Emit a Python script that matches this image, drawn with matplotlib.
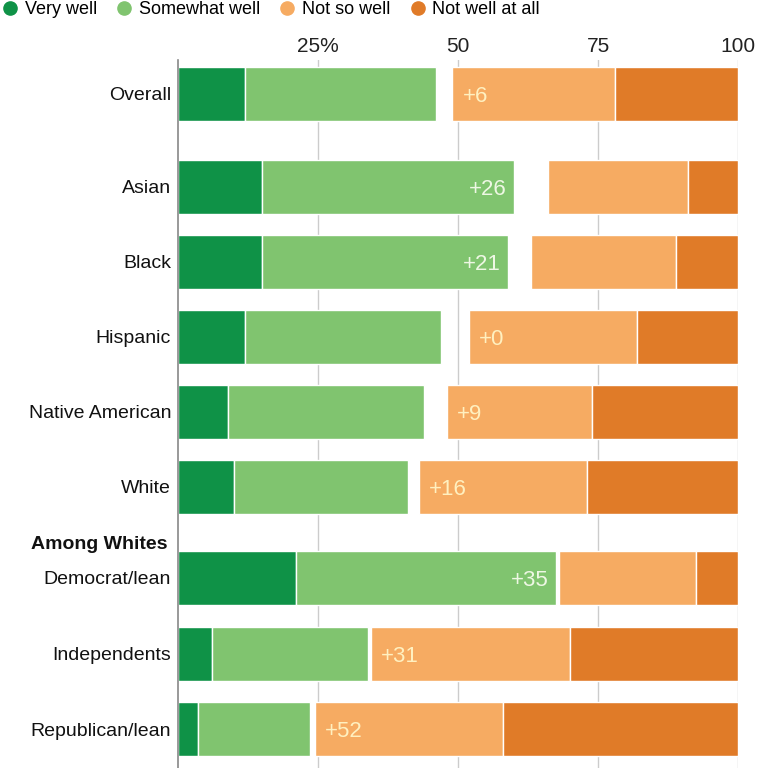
import numpy as np
import matplotlib.pyplot as plt
from matplotlib.lines import Line2D

# Data
groups = ["Overall", "Asian", "Black", "Hispanic", "Native American", "White",
          "Democrat/lean", "Independents", "Republican/lean"]
very_well = [12, 15, 15, 12, 9, 10, 21, 6, 3.5]
somewhat_well = [34, 45, 44, 35, 35, 31, 46.5, 28, 20]
not_so_well = [29, 25, 26, 30, 26, 30, 24.5, 35.5, 33.5]
not_well_at_all = [22, 9, 11, 18, 26, 27, 7.5, 30, 42]
net_labels = ["+6", "+26", "+21", "+0", "+9", "+16", "+35", "+31", "+52"]

legend_names = ["Very well", "Somewhat well", "Not so well", "Not well at all"]
colors = ["#0f9247", "#80c46f", "#f6ab62", "#e07b28"]

# row positions (extra space before the race rows and the "Among Whites" block)
ypos = np.array([0, 1.24, 2.24, 3.24, 4.24, 5.24, 6.45, 7.47, 8.47])
bar_h = 0.72

plt.rcParams['font.family'] = ['Liberation Sans', 'DejaVu Sans']

fig = plt.figure(figsize=(7.68, 7.68), dpi=100)
ax = fig.add_axes([178 / 768, 0, 560 / 768, 1 - 60 / 768])

vw = np.array(very_well)
sw = np.array(somewhat_well)
ns = np.array(not_so_well)
na = np.array(not_well_at_all)
pos_total = vw + sw
neg_start = 100 - ns - na

ax.barh(ypos, vw, left=0, height=bar_h, color=colors[0], edgecolor="white", linewidth=1, zorder=2)
ax.barh(ypos, sw, left=vw, height=bar_h, color=colors[1], edgecolor="white", linewidth=1, zorder=2)
ax.barh(ypos, ns, left=neg_start, height=bar_h, color=colors[2], edgecolor="white", linewidth=1, zorder=2)
ax.barh(ypos, na, left=neg_start + ns, height=bar_h, color=colors[3], edgecolor="white", linewidth=1, zorder=2)

# net labels on the larger side
for i, lab in enumerate(net_labels):
    if pos_total[i] > ns[i] + na[i]:
        ax.text(pos_total[i] - 1.3, ypos[i], lab, ha="right", va="center_baseline",
                color="#eef7e4", fontsize=16, zorder=3)
    else:
        ax.text(neg_start[i] + 1.8, ypos[i], lab, ha="left", va="center_baseline",
                color="#fff0c0", fontsize=16, zorder=3)

ax.set_xlim(0, 100)
ax.set_ylim(8.99, -0.45)
ax.set_yticks(ypos)
ax.set_yticklabels(groups, fontsize=14, color="#111111")
ax.tick_params(axis="y", length=0, pad=5)

ax.set_xticks([25, 50, 75, 100])
ax.set_xticklabels(["25%", "50", "75", "100"], fontsize=15, color="#222222")
ax.xaxis.tick_top()
ax.tick_params(axis="x", length=0, pad=3)
ax.grid(axis="x", color="#cccccc", linewidth=1, zorder=0)

for s in ["top", "right", "bottom"]:
    ax.spines[s].set_visible(False)
ax.spines["left"].set_color("#888888")
ax.spines["left"].set_linewidth(1.2)

ax.text(-1.8, 6.01, "Among Whites", ha="right", va="center", fontsize=14,
        fontweight="bold", color="#111111")

handles = [Line2D([0], [0], marker="o", linestyle="", markersize=9.5,
                  markerfacecolor=c, markeredgecolor=c) for c in colors]
fig.legend(handles, legend_names, loc="upper left", bbox_to_anchor=(-0.022, 1.02),
           ncol=4, frameon=False, fontsize=13, handletextpad=0.2,
           columnspacing=0.92, handlelength=1.2)

fig.savefig("out.png", dpi=100)
